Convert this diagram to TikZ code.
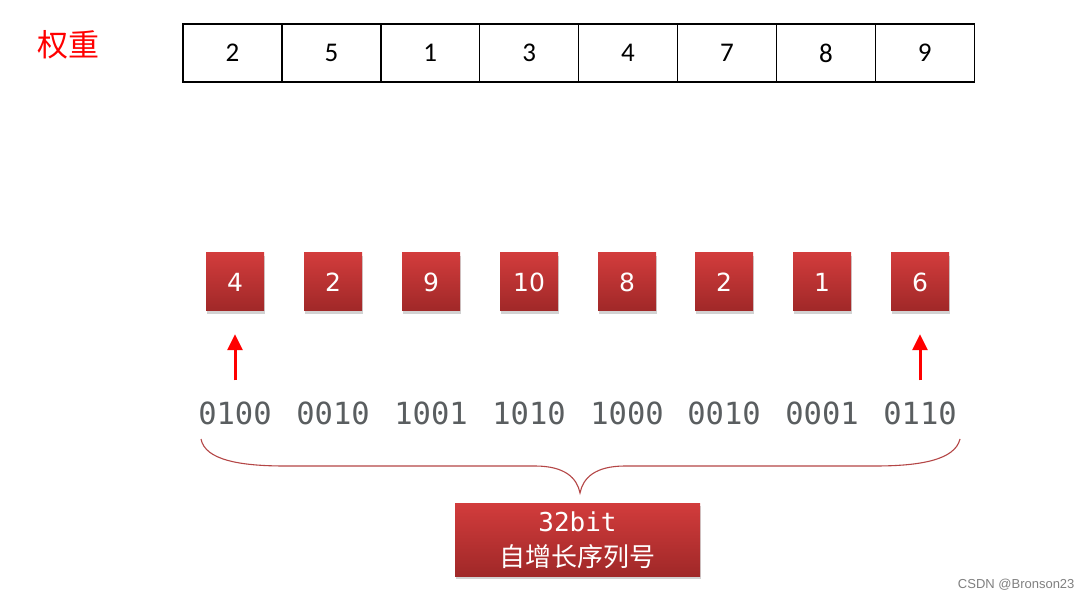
\documentclass[tikz,border=0pt]{standalone}
\usepackage{fontspec}
\setmainfont{Carlito}
\newfontfamily\cjk{Noto Sans CJK SC}
\newfontfamily\dsans{DejaVu Sans}
\newfontfamily\dmono{DejaVu Sans Mono}
\newfontfamily\lsans{Liberation Sans}
\usetikzlibrary{shadows,arrows.meta,calc}
\definecolor{boxtop}{HTML}{D23C3C}
\definecolor{boxbot}{HTML}{A02828}
\definecolor{bincol}{HTML}{5A5E60}
\definecolor{bracecol}{HTML}{B44646}
\tikzset{
  cell/.style={draw=black, line width=1.4pt, minimum width=98.9pt, minimum height=58pt, inner sep=0pt, font=\fontsize{27}{27}\selectfont},
  redsq/.style={top color=boxtop, bottom color=boxbot, draw=none, minimum width=58pt, minimum height=58pt, inner sep=0pt, text=white, font=\dsans\fontsize{25}{25}\selectfont, drop shadow={opacity=0.35, shadow xshift=1pt, shadow yshift=-3pt}},
  bin/.style={text=bincol, inner sep=0pt, font=\dmono\fontsize{30.5}{30.5}\selectfont},
  uparrow/.style={draw=red, line width=3pt, -{Triangle[length=16pt,width=15pt]}, shorten <=21pt, shorten >=23pt},
  brace/.style={draw=bracecol, line width=1.1pt},
  labelbox/.style={top color=boxtop, bottom color=boxbot, draw=none, minimum width=245pt, minimum height=73pt, inner sep=0pt, drop shadow={opacity=0.35, shadow xshift=1pt, shadow yshift=-3pt}},
  boxtext/.style={text=white, inner sep=0pt}
}
\begin{document}
\begin{tikzpicture}[x=1pt,y=-1pt]
\useasboundingbox[fill=white] (0,0) rectangle (1092,601);
% title
\node (title) [text=red, font=\cjk\fontsize{31}{31}\selectfont] at (68,45) {权重};
% top table
\foreach \v [count=\i] in {2,5,1,3,4,7,8,9} {
  \node (c\i) [cell] at ({183+98.9*(\i-0.5)},53) {\v};
}
% red squares and binary
\foreach \v/\b/\x [count=\i] in {4/0100/235, 2/0010/333, 9/1001/431, 10/1010/529, 8/1000/627, 2/0010/724, 1/0001/822, 6/0110/920} {
  \node (s\i) [redsq] at (\x,282) {\v};
  \node (b\i) [bin] at (\x,413) {\b};
}
\draw[uparrow] (b1.north) -- (s1.south);
\draw[uparrow] (b8.north) -- (s8.south);
% brace
\coordinate (bl) at (201,439);
\coordinate (br) at (960,439);
\coordinate (tip) at (580,493);
\draw[brace] (bl) .. controls (205,460) and (240,466) .. (285,466) -- (535,466)
  .. controls (565,466) and (577,478) .. (tip)
  .. controls (583,478) and (595,466) .. (625,466) -- (875,466)
  .. controls (920,466) and (955,460) .. (br);
% label box
\node (lbl) [labelbox] at (577.5,539.5) {};
\node (lbl1) [boxtext, font=\dmono\fontsize{26}{26}\selectfont] at (577.5,522) {32bit};
\node (lbl2) [boxtext, font=\cjk\fontsize{26}{26}\selectfont] at (577.5,557) {自增长序列号};
% watermark
\node (wm) [text=black!50, font=\lsans\fontsize{13}{13}\selectfont, anchor=east] at (1078,585) {CSDN @Bronson23};
\end{tikzpicture}
\end{document}
